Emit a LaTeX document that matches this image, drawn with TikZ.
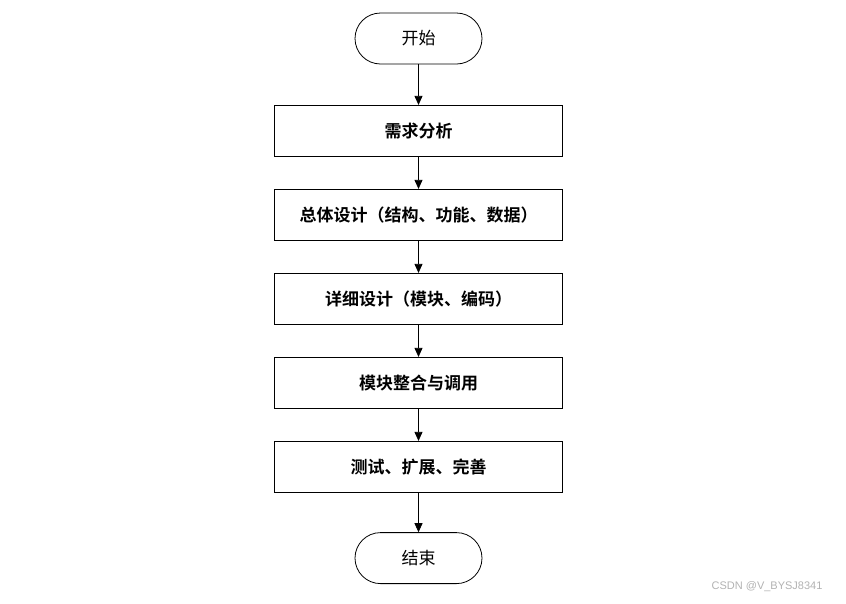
\documentclass[tikz,border=0pt]{standalone}
\usepackage{fontspec}
\setmainfont{Noto Sans CJK SC}
\newfontfamily\cjkbold{Noto Sans CJK SC Bold}
\setsansfont{Liberation Sans}
\usetikzlibrary{arrows.meta, positioning}

\begin{document}
\begin{tikzpicture}[
        x=1pt, y=1pt,
        node distance=32.2pt,
        font=\fontsize{17}{19}\selectfont,
        terminal/.style={draw, line width=0.8pt, rounded corners=25.5pt,
          minimum width=127pt, minimum height=51pt, inner sep=0pt},
        stepbox/.style={draw, line width=0.8pt, minimum width=288pt,
          minimum height=51pt, inner sep=0pt, font=\fontsize{17}{19}\selectfont\cjkbold},
        flow/.style={-{Triangle[length=9pt, width=8pt]}, line width=0.8pt}
      ]

      % page frame
      \useasboundingbox (0,0) rectangle (846,-603);

      % ==================== NODES ====================

      \node (Start) [terminal] at (418.5,-38.5) {开始};
      \node (Req) [stepbox, below=40.5pt of Start] {需求分析};
      \node (Overall) [stepbox, below=of Req] {总体设计（结构、功能、数据）};
      \node (Detail) [stepbox, below=of Overall] {详细设计（模块、编码）};
      \node (Merge) [stepbox, below=of Detail] {模块整合与调用};
      \node (Test) [stepbox, below=of Merge] {测试、扩展、完善};
      \node (End) [terminal, below=39.5pt of Test] {结束};

      % ==================== ARROWS ====================

      \foreach \from/\to in {Start/Req, Req/Overall, Overall/Detail,
                             Detail/Merge, Merge/Test, Test/End}
        \draw [flow] (\from) -- (\to);

      % watermark
      \node (Mark) [anchor=east, text=black!30, font=\sffamily\fontsize{11}{13}\selectfont]
        at (826,-587) {CSDN @V\_BYSJ8341};

    \end{tikzpicture}
\end{document}
